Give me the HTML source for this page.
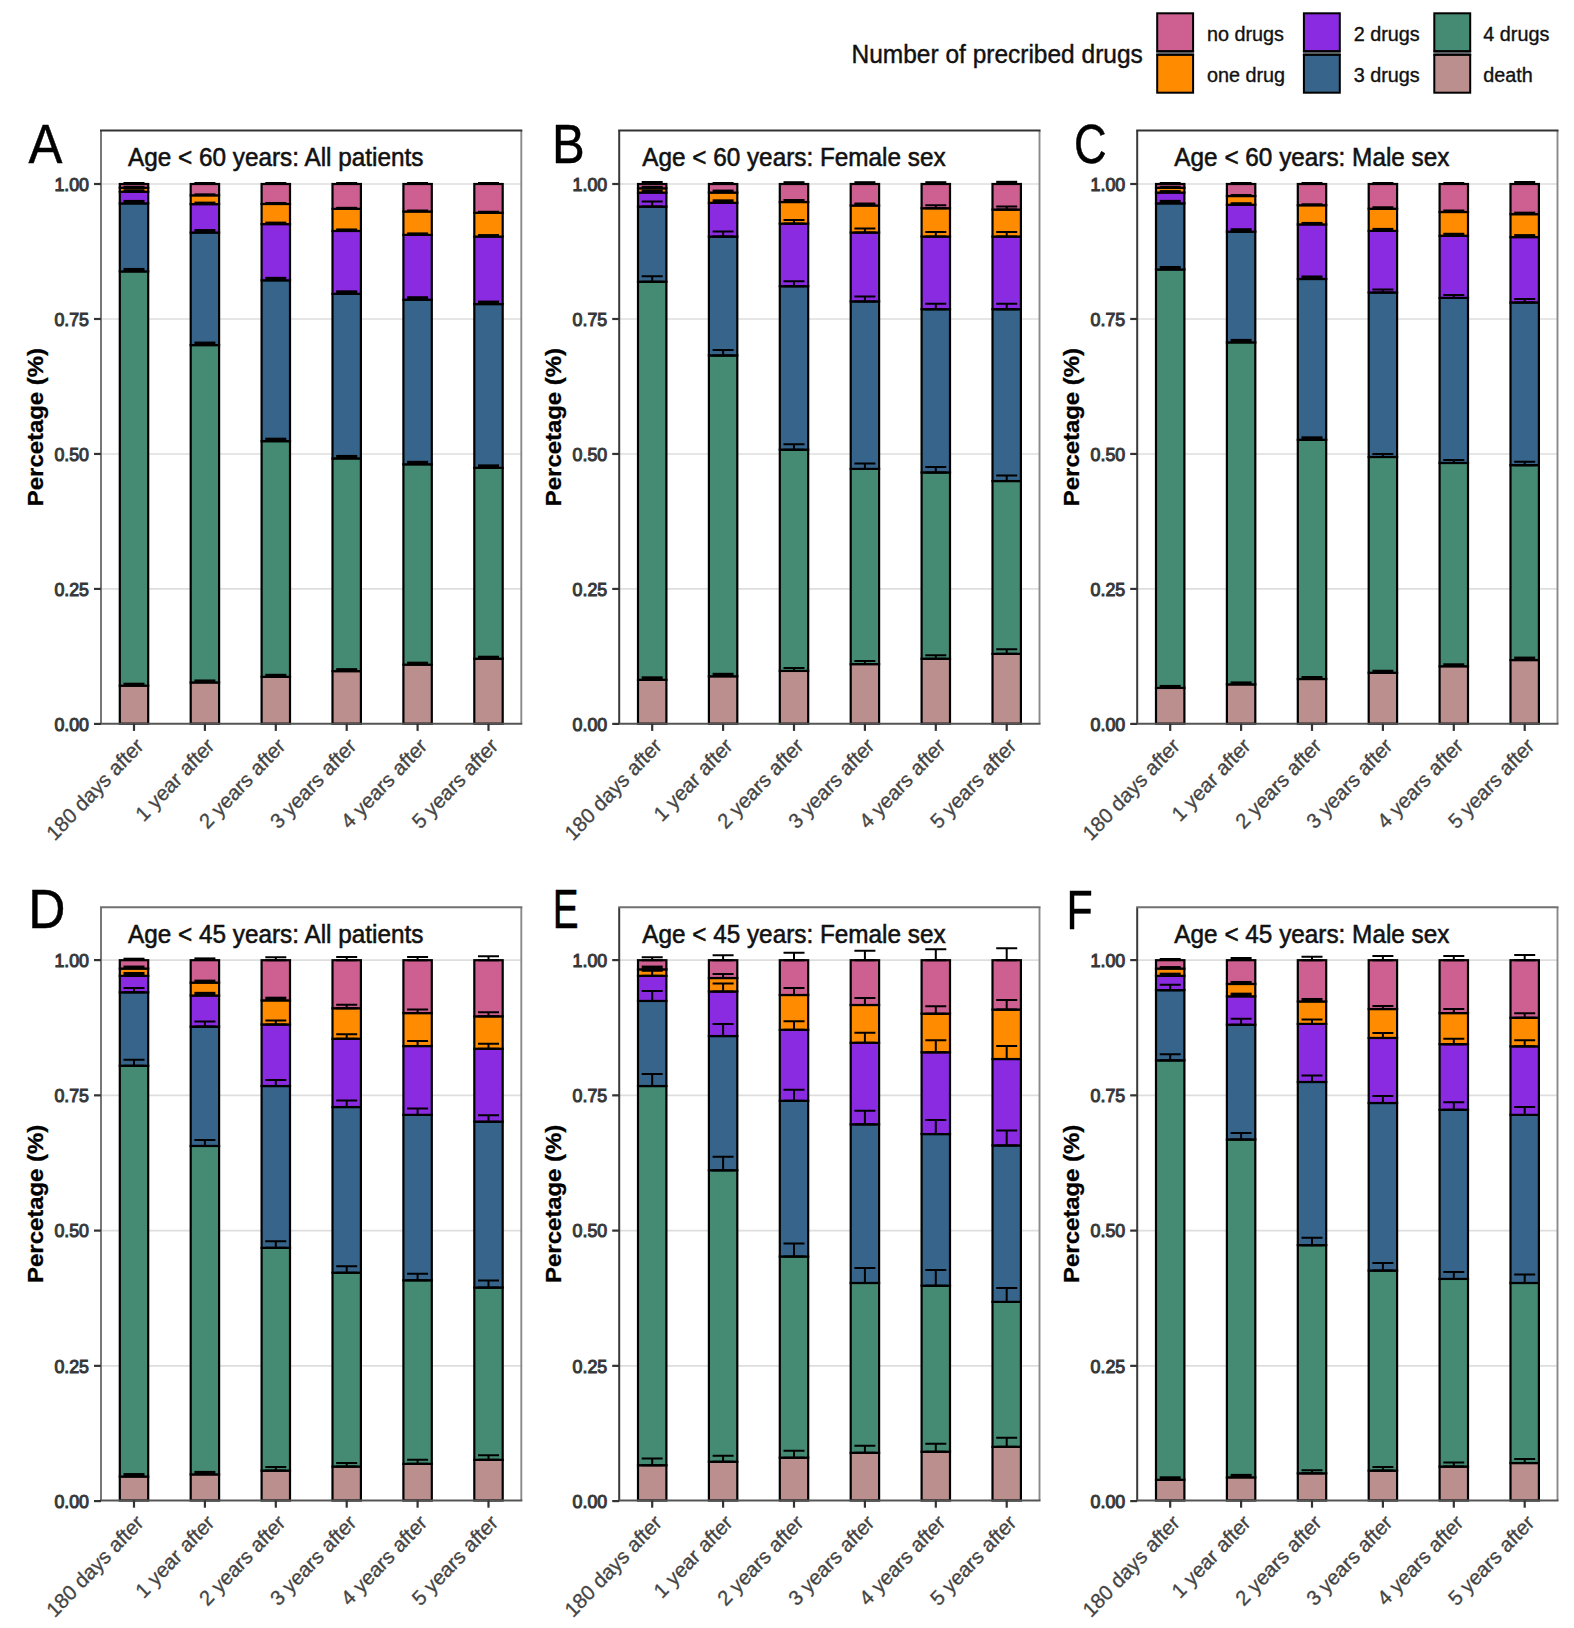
<!DOCTYPE html>
<html lang="en">
<head>
<meta charset="utf-8">
<title>Number of prescribed drugs over time</title>
<style>
html,body{margin:0;padding:0;background:#fff;}
body{width:1574px;height:1628px;overflow:hidden;}
svg{display:block;font-family:"Liberation Sans",sans-serif;}
.grid{stroke:#dedede;stroke-width:1.6;}
.bar{stroke:#000;stroke-width:2.2;}
.eb{stroke:#000;stroke-width:2;fill:none;}
.border{fill:none;stroke:#333;stroke-width:1.5;}
.tick{stroke:#333;stroke-width:2.2;}
.tl{font-size:17.8px;fill:#383838;stroke:#383838;stroke-width:1px;}
.xl{font-size:20.1px;fill:#444;stroke:#444;stroke-width:.3px;}
.yt{font-size:22.5px;font-weight:bold;fill:#000;stroke:#000;stroke-width:.3px;}
.pt{font-size:25px;fill:#111;stroke:#111;stroke-width:.55px;}
.let{font-size:56px;fill:#000;stroke:#000;stroke-width:.5px;}
.lt{font-size:24.5px;fill:#111;stroke:#111;stroke-width:.4px;}
.ll{font-size:19.8px;fill:#111;stroke:#111;stroke-width:.35px;}
.key{stroke:#000;stroke-width:2;}
</style>
</head>
<body>
<svg width="1574" height="1628" viewBox="0 0 1574 1628">
<rect x="0" y="0" width="1574" height="1628" fill="#ffffff"/>
<g class="panel">
<line class="grid" x1="101" x2="521.3" y1="588.92" y2="588.92"/>
<line class="grid" x1="101" x2="521.3" y1="453.95" y2="453.95"/>
<line class="grid" x1="101" x2="521.3" y1="318.98" y2="318.98"/>
<line class="grid" x1="101" x2="521.3" y1="184" y2="184"/>
<rect class="bar" x="119.8" y="685.71" width="28.4" height="37.99" fill="#BC8F8F"/>
<rect class="bar" x="119.8" y="271.43" width="28.4" height="414.27" fill="#458B74"/>
<rect class="bar" x="119.8" y="203.43" width="28.4" height="68" fill="#36648B"/>
<rect class="bar" x="119.8" y="191.72" width="28.4" height="11.71" fill="#8A2BE2"/>
<rect class="bar" x="119.8" y="187.78" width="28.4" height="3.94" fill="#FF8C00"/>
<rect class="bar" x="119.8" y="184" width="28.4" height="3.78" fill="#CD6090"/>
<rect x="123.5" y="682.71" width="21" height="3" fill="#000"/>
<rect x="123.5" y="267.93" width="21" height="3.5" fill="#000"/>
<rect x="123.5" y="199.93" width="21" height="3.5" fill="#000"/>
<rect x="123.5" y="189.22" width="21" height="2.5" fill="#000"/>
<rect x="123.5" y="185.78" width="21" height="2" fill="#000"/>
<rect x="123.5" y="182" width="21" height="2" fill="#000"/>
<rect class="bar" x="190.7" y="682.47" width="28.4" height="41.23" fill="#BC8F8F"/>
<rect class="bar" x="190.7" y="345.1" width="28.4" height="337.37" fill="#458B74"/>
<rect class="bar" x="190.7" y="232.57" width="28.4" height="112.53" fill="#36648B"/>
<rect class="bar" x="190.7" y="204.13" width="28.4" height="28.44" fill="#8A2BE2"/>
<rect class="bar" x="190.7" y="195.33" width="28.4" height="8.8" fill="#FF8C00"/>
<rect class="bar" x="190.7" y="184" width="28.4" height="11.33" fill="#CD6090"/>
<rect x="194.4" y="679.47" width="21" height="3" fill="#000"/>
<rect x="194.4" y="341.6" width="21" height="3.5" fill="#000"/>
<rect x="194.4" y="229.07" width="21" height="3.5" fill="#000"/>
<rect x="194.4" y="201.63" width="21" height="2.5" fill="#000"/>
<rect x="194.4" y="193.33" width="21" height="2" fill="#000"/>
<rect x="194.4" y="182" width="21" height="2" fill="#000"/>
<rect class="bar" x="261.6" y="676.8" width="28.4" height="46.9" fill="#BC8F8F"/>
<rect class="bar" x="261.6" y="441.17" width="28.4" height="235.63" fill="#458B74"/>
<rect class="bar" x="261.6" y="280.34" width="28.4" height="160.83" fill="#36648B"/>
<rect class="bar" x="261.6" y="224.1" width="28.4" height="56.24" fill="#8A2BE2"/>
<rect class="bar" x="261.6" y="203.97" width="28.4" height="20.13" fill="#FF8C00"/>
<rect class="bar" x="261.6" y="184" width="28.4" height="19.97" fill="#CD6090"/>
<rect x="265.3" y="673.8" width="21" height="3" fill="#000"/>
<rect x="265.3" y="437.67" width="21" height="3.5" fill="#000"/>
<rect x="265.3" y="276.84" width="21" height="3.5" fill="#000"/>
<rect x="265.3" y="221.6" width="21" height="2.5" fill="#000"/>
<rect x="265.3" y="201.97" width="21" height="2" fill="#000"/>
<rect x="265.3" y="182" width="21" height="2" fill="#000"/>
<rect class="bar" x="332.5" y="671.13" width="28.4" height="52.57" fill="#BC8F8F"/>
<rect class="bar" x="332.5" y="458.44" width="28.4" height="212.7" fill="#458B74"/>
<rect class="bar" x="332.5" y="293.83" width="28.4" height="164.61" fill="#36648B"/>
<rect class="bar" x="332.5" y="230.95" width="28.4" height="62.88" fill="#8A2BE2"/>
<rect class="bar" x="332.5" y="208.83" width="28.4" height="22.13" fill="#FF8C00"/>
<rect class="bar" x="332.5" y="184" width="28.4" height="24.83" fill="#CD6090"/>
<rect x="336.2" y="668.13" width="21" height="3" fill="#000"/>
<rect x="336.2" y="454.94" width="21" height="3.5" fill="#000"/>
<rect x="336.2" y="290.33" width="21" height="3.5" fill="#000"/>
<rect x="336.2" y="228.45" width="21" height="2.5" fill="#000"/>
<rect x="336.2" y="206.83" width="21" height="2" fill="#000"/>
<rect x="336.2" y="182" width="21" height="2" fill="#000"/>
<rect class="bar" x="403.4" y="664.66" width="28.4" height="59.04" fill="#BC8F8F"/>
<rect class="bar" x="403.4" y="464.32" width="28.4" height="200.34" fill="#458B74"/>
<rect class="bar" x="403.4" y="299.71" width="28.4" height="164.61" fill="#36648B"/>
<rect class="bar" x="403.4" y="234.89" width="28.4" height="64.82" fill="#8A2BE2"/>
<rect class="bar" x="403.4" y="211.52" width="28.4" height="23.37" fill="#FF8C00"/>
<rect class="bar" x="403.4" y="184" width="28.4" height="27.52" fill="#CD6090"/>
<rect x="407.1" y="661.66" width="21" height="3" fill="#000"/>
<rect x="407.1" y="460.82" width="21" height="3.5" fill="#000"/>
<rect x="407.1" y="296.21" width="21" height="3.5" fill="#000"/>
<rect x="407.1" y="232.39" width="21" height="2.5" fill="#000"/>
<rect x="407.1" y="209.52" width="21" height="2" fill="#000"/>
<rect x="407.1" y="182" width="21" height="2" fill="#000"/>
<rect class="bar" x="474.3" y="658.72" width="28.4" height="64.98" fill="#BC8F8F"/>
<rect class="bar" x="474.3" y="467.88" width="28.4" height="190.84" fill="#458B74"/>
<rect class="bar" x="474.3" y="304.08" width="28.4" height="163.8" fill="#36648B"/>
<rect class="bar" x="474.3" y="236.57" width="28.4" height="67.52" fill="#8A2BE2"/>
<rect class="bar" x="474.3" y="212.77" width="28.4" height="23.8" fill="#FF8C00"/>
<rect class="bar" x="474.3" y="184" width="28.4" height="28.77" fill="#CD6090"/>
<rect x="478" y="655.72" width="21" height="3" fill="#000"/>
<rect x="478" y="464.38" width="21" height="3.5" fill="#000"/>
<rect x="478" y="300.58" width="21" height="3.5" fill="#000"/>
<rect x="478" y="234.07" width="21" height="2.5" fill="#000"/>
<rect x="478" y="210.77" width="21" height="2" fill="#000"/>
<rect x="478" y="182" width="21" height="2" fill="#000"/>
<path d="M101 130.5V723.7" fill="none" stroke="#777" stroke-width="2"/>
<path d="M521.3 130.5V723.7" fill="none" stroke="#8a8a8a" stroke-width="1.9"/>
<path d="M100 130.5H522.3" fill="none" stroke="#333" stroke-width="2.2"/>
<path d="M100 723.7H522.3" fill="none" stroke="#555" stroke-width="1.9"/>
<line class="tick" x1="94" x2="101" y1="723.9" y2="723.9"/>
<text class="tl" text-anchor="end" transform="translate(89,730.6) scale(1,1.04)">0.00</text>
<line class="tick" x1="94" x2="101" y1="588.92" y2="588.92"/>
<text class="tl" text-anchor="end" transform="translate(89,595.62) scale(1,1.04)">0.25</text>
<line class="tick" x1="94" x2="101" y1="453.95" y2="453.95"/>
<text class="tl" text-anchor="end" transform="translate(89,460.65) scale(1,1.04)">0.50</text>
<line class="tick" x1="94" x2="101" y1="318.98" y2="318.98"/>
<text class="tl" text-anchor="end" transform="translate(89,325.68) scale(1,1.04)">0.75</text>
<line class="tick" x1="94" x2="101" y1="184" y2="184"/>
<text class="tl" text-anchor="end" transform="translate(89,190.7) scale(1,1.04)">1.00</text>
<line class="tick" x1="134" x2="134" y1="723.7" y2="730.9"/>
<text class="xl" text-anchor="end" transform="translate(144.7,747.2) scale(1,1.05) rotate(-45)">180 days after</text>
<line class="tick" x1="204.9" x2="204.9" y1="723.7" y2="730.9"/>
<text class="xl" text-anchor="end" transform="translate(215.6,747.2) scale(1,1.05) rotate(-45)">1 year after</text>
<line class="tick" x1="275.8" x2="275.8" y1="723.7" y2="730.9"/>
<text class="xl" text-anchor="end" transform="translate(286.5,747.2) scale(1,1.05) rotate(-45)">2 years after</text>
<line class="tick" x1="346.7" x2="346.7" y1="723.7" y2="730.9"/>
<text class="xl" text-anchor="end" transform="translate(357.4,747.2) scale(1,1.05) rotate(-45)">3 years after</text>
<line class="tick" x1="417.6" x2="417.6" y1="723.7" y2="730.9"/>
<text class="xl" text-anchor="end" transform="translate(428.3,747.2) scale(1,1.05) rotate(-45)">4 years after</text>
<line class="tick" x1="488.5" x2="488.5" y1="723.7" y2="730.9"/>
<text class="xl" text-anchor="end" transform="translate(499.2,747.2) scale(1,1.05) rotate(-45)">5 years after</text>
<text class="yt" text-anchor="middle" transform="translate(42.9,427.1) rotate(-90) scale(1.063,1)">Percetage (%)</text>
<text class="pt" text-anchor="middle" transform="translate(275.7,165.8) scale(.973,1)">Age &lt; 60 years: All patients</text>
<text class="let" transform="translate(28.50,163.4) scale(0.9077,1)">A</text>
</g>
<g class="panel">
<line class="grid" x1="619.2" x2="1039.5" y1="588.92" y2="588.92"/>
<line class="grid" x1="619.2" x2="1039.5" y1="453.95" y2="453.95"/>
<line class="grid" x1="619.2" x2="1039.5" y1="318.98" y2="318.98"/>
<line class="grid" x1="619.2" x2="1039.5" y1="184" y2="184"/>
<rect class="bar" x="638" y="679.82" width="28.4" height="43.88" fill="#BC8F8F"/>
<rect class="bar" x="638" y="281.69" width="28.4" height="398.14" fill="#458B74"/>
<rect class="bar" x="638" y="206.61" width="28.4" height="75.07" fill="#36648B"/>
<rect class="bar" x="638" y="192.58" width="28.4" height="14.03" fill="#8A2BE2"/>
<rect class="bar" x="638" y="188.32" width="28.4" height="4.26" fill="#FF8C00"/>
<rect class="bar" x="638" y="184" width="28.4" height="4.32" fill="#CD6090"/>
<rect x="641.7" y="676.32" width="21" height="3.5" fill="#000"/>
<path class="eb" d="M641.7 276.19H662.7M652.2 276.19V281.69M641.7 281.69H662.7"/>
<path class="eb" d="M641.7 201.61H662.7M652.2 201.61V206.61M641.7 206.61H662.7"/>
<rect x="641.7" y="189.58" width="21" height="3" fill="#000"/>
<rect x="641.7" y="185.82" width="21" height="2.5" fill="#000"/>
<rect x="641.7" y="181" width="21" height="3" fill="#000"/>
<rect class="bar" x="708.9" y="676.31" width="28.4" height="47.39" fill="#BC8F8F"/>
<rect class="bar" x="708.9" y="355.41" width="28.4" height="320.91" fill="#458B74"/>
<rect class="bar" x="708.9" y="236.57" width="28.4" height="118.84" fill="#36648B"/>
<rect class="bar" x="708.9" y="202.84" width="28.4" height="33.73" fill="#8A2BE2"/>
<rect class="bar" x="708.9" y="192.58" width="28.4" height="10.25" fill="#FF8C00"/>
<rect class="bar" x="708.9" y="184" width="28.4" height="8.58" fill="#CD6090"/>
<rect x="712.6" y="672.81" width="21" height="3.5" fill="#000"/>
<path class="eb" d="M712.6 349.91H733.6M723.1 349.91V355.41M712.6 355.41H733.6"/>
<path class="eb" d="M712.6 231.57H733.6M723.1 231.57V236.57M712.6 236.57H733.6"/>
<rect x="712.6" y="199.34" width="21" height="3.5" fill="#000"/>
<rect x="712.6" y="189.58" width="21" height="3" fill="#000"/>
<rect x="712.6" y="182" width="21" height="2" fill="#000"/>
<rect class="bar" x="779.8" y="670.92" width="28.4" height="52.78" fill="#BC8F8F"/>
<rect class="bar" x="779.8" y="449.64" width="28.4" height="221.28" fill="#458B74"/>
<rect class="bar" x="779.8" y="286.22" width="28.4" height="163.42" fill="#36648B"/>
<rect class="bar" x="779.8" y="223.61" width="28.4" height="62.61" fill="#8A2BE2"/>
<rect class="bar" x="779.8" y="202.03" width="28.4" height="21.59" fill="#FF8C00"/>
<rect class="bar" x="779.8" y="184" width="28.4" height="18.03" fill="#CD6090"/>
<path class="eb" d="M783.5 667.92H804.5M794 667.92V670.92M783.5 670.92H804.5"/>
<path class="eb" d="M783.5 444.14H804.5M794 444.14V449.64M783.5 449.64H804.5"/>
<path class="eb" d="M783.5 281.22H804.5M794 281.22V286.22M783.5 286.22H804.5"/>
<path class="eb" d="M783.5 220.11H804.5M794 220.11V223.61M783.5 223.61H804.5"/>
<rect x="783.5" y="199.03" width="21" height="3" fill="#000"/>
<rect x="783.5" y="181.2" width="21" height="2.8" fill="#000"/>
<rect class="bar" x="850.7" y="664.12" width="28.4" height="59.58" fill="#BC8F8F"/>
<rect class="bar" x="850.7" y="468.91" width="28.4" height="195.21" fill="#458B74"/>
<rect class="bar" x="850.7" y="301.38" width="28.4" height="167.52" fill="#36648B"/>
<rect class="bar" x="850.7" y="232.52" width="28.4" height="68.87" fill="#8A2BE2"/>
<rect class="bar" x="850.7" y="205.53" width="28.4" height="26.98" fill="#FF8C00"/>
<rect class="bar" x="850.7" y="184" width="28.4" height="21.53" fill="#CD6090"/>
<path class="eb" d="M854.4 661.12H875.4M864.9 661.12V664.12M854.4 664.12H875.4"/>
<path class="eb" d="M854.4 463.41H875.4M864.9 463.41V468.91M854.4 468.91H875.4"/>
<path class="eb" d="M854.4 296.38H875.4M864.9 296.38V301.38M854.4 301.38H875.4"/>
<path class="eb" d="M854.4 228.52H875.4M864.9 228.52V232.52M854.4 232.52H875.4"/>
<rect x="854.4" y="202.53" width="21" height="3" fill="#000"/>
<rect x="854.4" y="181.2" width="21" height="2.8" fill="#000"/>
<rect class="bar" x="921.6" y="658.72" width="28.4" height="64.98" fill="#BC8F8F"/>
<rect class="bar" x="921.6" y="472.42" width="28.4" height="186.3" fill="#458B74"/>
<rect class="bar" x="921.6" y="309.21" width="28.4" height="163.21" fill="#36648B"/>
<rect class="bar" x="921.6" y="236.57" width="28.4" height="72.64" fill="#8A2BE2"/>
<rect class="bar" x="921.6" y="208.23" width="28.4" height="28.33" fill="#FF8C00"/>
<rect class="bar" x="921.6" y="184" width="28.4" height="24.23" fill="#CD6090"/>
<path class="eb" d="M925.3 655.22H946.3M935.8 655.22V658.72M925.3 658.72H946.3"/>
<path class="eb" d="M925.3 466.92H946.3M935.8 466.92V472.42M925.3 472.42H946.3"/>
<path class="eb" d="M925.3 303.71H946.3M935.8 303.71V309.21M925.3 309.21H946.3"/>
<path class="eb" d="M925.3 232.07H946.3M935.8 232.07V236.57M925.3 236.57H946.3"/>
<path class="eb" d="M925.3 205.23H946.3M935.8 205.23V208.23M925.3 208.23H946.3"/>
<rect x="925.3" y="181.2" width="21" height="2.8" fill="#000"/>
<rect class="bar" x="992.5" y="653.86" width="28.4" height="69.84" fill="#BC8F8F"/>
<rect class="bar" x="992.5" y="481.05" width="28.4" height="172.81" fill="#458B74"/>
<rect class="bar" x="992.5" y="309.21" width="28.4" height="171.84" fill="#36648B"/>
<rect class="bar" x="992.5" y="236.57" width="28.4" height="72.64" fill="#8A2BE2"/>
<rect class="bar" x="992.5" y="209.58" width="28.4" height="26.99" fill="#FF8C00"/>
<rect class="bar" x="992.5" y="184" width="28.4" height="25.58" fill="#CD6090"/>
<path class="eb" d="M996.2 649.36H1017.2M1006.7 649.36V653.86M996.2 653.86H1017.2"/>
<path class="eb" d="M996.2 475.55H1017.2M1006.7 475.55V481.05M996.2 481.05H1017.2"/>
<path class="eb" d="M996.2 303.71H1017.2M1006.7 303.71V309.21M996.2 309.21H1017.2"/>
<path class="eb" d="M996.2 232.07H1017.2M1006.7 232.07V236.57M996.2 236.57H1017.2"/>
<path class="eb" d="M996.2 206.58H1017.2M1006.7 206.58V209.58M996.2 209.58H1017.2"/>
<rect x="996.2" y="180.8" width="21" height="3.2" fill="#000"/>
<path d="M619.2 130.5V723.7" fill="none" stroke="#3a3a3a" stroke-width="2"/>
<path d="M1039.5 130.5V723.7" fill="none" stroke="#8a8a8a" stroke-width="1.9"/>
<path d="M618.2 130.5H1040.5" fill="none" stroke="#333" stroke-width="2.2"/>
<path d="M618.2 723.7H1040.5" fill="none" stroke="#555" stroke-width="1.9"/>
<line class="tick" x1="612.2" x2="619.2" y1="723.9" y2="723.9"/>
<text class="tl" text-anchor="end" transform="translate(607.2,730.6) scale(1,1.04)">0.00</text>
<line class="tick" x1="612.2" x2="619.2" y1="588.92" y2="588.92"/>
<text class="tl" text-anchor="end" transform="translate(607.2,595.62) scale(1,1.04)">0.25</text>
<line class="tick" x1="612.2" x2="619.2" y1="453.95" y2="453.95"/>
<text class="tl" text-anchor="end" transform="translate(607.2,460.65) scale(1,1.04)">0.50</text>
<line class="tick" x1="612.2" x2="619.2" y1="318.98" y2="318.98"/>
<text class="tl" text-anchor="end" transform="translate(607.2,325.68) scale(1,1.04)">0.75</text>
<line class="tick" x1="612.2" x2="619.2" y1="184" y2="184"/>
<text class="tl" text-anchor="end" transform="translate(607.2,190.7) scale(1,1.04)">1.00</text>
<line class="tick" x1="652.2" x2="652.2" y1="723.7" y2="730.9"/>
<text class="xl" text-anchor="end" transform="translate(662.9,747.2) scale(1,1.05) rotate(-45)">180 days after</text>
<line class="tick" x1="723.1" x2="723.1" y1="723.7" y2="730.9"/>
<text class="xl" text-anchor="end" transform="translate(733.8,747.2) scale(1,1.05) rotate(-45)">1 year after</text>
<line class="tick" x1="794" x2="794" y1="723.7" y2="730.9"/>
<text class="xl" text-anchor="end" transform="translate(804.7,747.2) scale(1,1.05) rotate(-45)">2 years after</text>
<line class="tick" x1="864.9" x2="864.9" y1="723.7" y2="730.9"/>
<text class="xl" text-anchor="end" transform="translate(875.6,747.2) scale(1,1.05) rotate(-45)">3 years after</text>
<line class="tick" x1="935.8" x2="935.8" y1="723.7" y2="730.9"/>
<text class="xl" text-anchor="end" transform="translate(946.5,747.2) scale(1,1.05) rotate(-45)">4 years after</text>
<line class="tick" x1="1006.7" x2="1006.7" y1="723.7" y2="730.9"/>
<text class="xl" text-anchor="end" transform="translate(1017.4,747.2) scale(1,1.05) rotate(-45)">5 years after</text>
<text class="yt" text-anchor="middle" transform="translate(561.1,427.1) rotate(-90) scale(1.063,1)">Percetage (%)</text>
<text class="pt" text-anchor="middle" transform="translate(793.9,165.8) scale(.973,1)">Age &lt; 60 years: Female sex</text>
<text class="let" transform="translate(551.88,162.9) scale(0.8756,1)">B</text>
</g>
<g class="panel">
<line class="grid" x1="1137.2" x2="1557.5" y1="588.92" y2="588.92"/>
<line class="grid" x1="1137.2" x2="1557.5" y1="453.95" y2="453.95"/>
<line class="grid" x1="1137.2" x2="1557.5" y1="318.98" y2="318.98"/>
<line class="grid" x1="1137.2" x2="1557.5" y1="184" y2="184"/>
<rect class="bar" x="1156" y="687.92" width="28.4" height="35.78" fill="#BC8F8F"/>
<rect class="bar" x="1156" y="269.49" width="28.4" height="418.43" fill="#458B74"/>
<rect class="bar" x="1156" y="203.38" width="28.4" height="66.11" fill="#36648B"/>
<rect class="bar" x="1156" y="192.58" width="28.4" height="10.79" fill="#8A2BE2"/>
<rect class="bar" x="1156" y="187.78" width="28.4" height="4.8" fill="#FF8C00"/>
<rect class="bar" x="1156" y="184" width="28.4" height="3.78" fill="#CD6090"/>
<rect x="1159.7" y="684.92" width="21" height="3" fill="#000"/>
<rect x="1159.7" y="265.99" width="21" height="3.5" fill="#000"/>
<rect x="1159.7" y="199.88" width="21" height="3.5" fill="#000"/>
<rect x="1159.7" y="190.08" width="21" height="2.5" fill="#000"/>
<rect x="1159.7" y="185.78" width="21" height="2" fill="#000"/>
<rect x="1159.7" y="182" width="21" height="2" fill="#000"/>
<rect class="bar" x="1226.9" y="684.41" width="28.4" height="39.29" fill="#BC8F8F"/>
<rect class="bar" x="1226.9" y="342.4" width="28.4" height="342.01" fill="#458B74"/>
<rect class="bar" x="1226.9" y="231.71" width="28.4" height="110.69" fill="#36648B"/>
<rect class="bar" x="1226.9" y="204.72" width="28.4" height="26.99" fill="#8A2BE2"/>
<rect class="bar" x="1226.9" y="196.04" width="28.4" height="8.69" fill="#FF8C00"/>
<rect class="bar" x="1226.9" y="184" width="28.4" height="12.04" fill="#CD6090"/>
<rect x="1230.6" y="681.41" width="21" height="3" fill="#000"/>
<rect x="1230.6" y="338.9" width="21" height="3.5" fill="#000"/>
<rect x="1230.6" y="228.21" width="21" height="3.5" fill="#000"/>
<rect x="1230.6" y="202.22" width="21" height="2.5" fill="#000"/>
<rect x="1230.6" y="194.04" width="21" height="2" fill="#000"/>
<rect x="1230.6" y="182" width="21" height="2" fill="#000"/>
<rect class="bar" x="1297.8" y="679.01" width="28.4" height="44.69" fill="#BC8F8F"/>
<rect class="bar" x="1297.8" y="439.82" width="28.4" height="239.2" fill="#458B74"/>
<rect class="bar" x="1297.8" y="278.99" width="28.4" height="160.83" fill="#36648B"/>
<rect class="bar" x="1297.8" y="224.42" width="28.4" height="54.56" fill="#8A2BE2"/>
<rect class="bar" x="1297.8" y="205.26" width="28.4" height="19.16" fill="#FF8C00"/>
<rect class="bar" x="1297.8" y="184" width="28.4" height="21.26" fill="#CD6090"/>
<rect x="1301.5" y="676.01" width="21" height="3" fill="#000"/>
<rect x="1301.5" y="436.32" width="21" height="3.5" fill="#000"/>
<rect x="1301.5" y="275.49" width="21" height="3.5" fill="#000"/>
<rect x="1301.5" y="221.92" width="21" height="2.5" fill="#000"/>
<rect x="1301.5" y="203.26" width="21" height="2" fill="#000"/>
<rect x="1301.5" y="182" width="21" height="2" fill="#000"/>
<rect class="bar" x="1368.7" y="672.75" width="28.4" height="50.95" fill="#BC8F8F"/>
<rect class="bar" x="1368.7" y="456.98" width="28.4" height="215.77" fill="#458B74"/>
<rect class="bar" x="1368.7" y="292.48" width="28.4" height="164.5" fill="#36648B"/>
<rect class="bar" x="1368.7" y="230.9" width="28.4" height="61.58" fill="#8A2BE2"/>
<rect class="bar" x="1368.7" y="208.77" width="28.4" height="22.13" fill="#FF8C00"/>
<rect class="bar" x="1368.7" y="184" width="28.4" height="24.77" fill="#CD6090"/>
<rect x="1372.4" y="669.75" width="21" height="3" fill="#000"/>
<path class="eb" d="M1372.4 453.98H1393.4M1382.9 453.98V456.98M1372.4 456.98H1393.4"/>
<path class="eb" d="M1372.4 289.48H1393.4M1382.9 289.48V292.48M1372.4 292.48H1393.4"/>
<rect x="1372.4" y="227.9" width="21" height="3" fill="#000"/>
<rect x="1372.4" y="206.27" width="21" height="2.5" fill="#000"/>
<rect x="1372.4" y="182" width="21" height="2" fill="#000"/>
<rect class="bar" x="1439.6" y="666.28" width="28.4" height="57.42" fill="#BC8F8F"/>
<rect class="bar" x="1439.6" y="462.97" width="28.4" height="203.3" fill="#458B74"/>
<rect class="bar" x="1439.6" y="297.88" width="28.4" height="165.09" fill="#36648B"/>
<rect class="bar" x="1439.6" y="235.76" width="28.4" height="62.12" fill="#8A2BE2"/>
<rect class="bar" x="1439.6" y="212.01" width="28.4" height="23.75" fill="#FF8C00"/>
<rect class="bar" x="1439.6" y="184" width="28.4" height="28.01" fill="#CD6090"/>
<rect x="1443.3" y="663.28" width="21" height="3" fill="#000"/>
<path class="eb" d="M1443.3 459.97H1464.3M1453.8 459.97V462.97M1443.3 462.97H1464.3"/>
<path class="eb" d="M1443.3 294.88H1464.3M1453.8 294.88V297.88M1443.3 297.88H1464.3"/>
<rect x="1443.3" y="232.76" width="21" height="3" fill="#000"/>
<rect x="1443.3" y="209.51" width="21" height="2.5" fill="#000"/>
<rect x="1443.3" y="182" width="21" height="2" fill="#000"/>
<rect class="bar" x="1510.5" y="660.07" width="28.4" height="63.63" fill="#BC8F8F"/>
<rect class="bar" x="1510.5" y="465.13" width="28.4" height="194.94" fill="#458B74"/>
<rect class="bar" x="1510.5" y="302.46" width="28.4" height="162.67" fill="#36648B"/>
<rect class="bar" x="1510.5" y="237.11" width="28.4" height="65.36" fill="#8A2BE2"/>
<rect class="bar" x="1510.5" y="214.17" width="28.4" height="22.94" fill="#FF8C00"/>
<rect class="bar" x="1510.5" y="184" width="28.4" height="30.17" fill="#CD6090"/>
<rect x="1514.2" y="656.57" width="21" height="3.5" fill="#000"/>
<path class="eb" d="M1514.2 461.63H1535.2M1524.7 461.63V465.13M1514.2 465.13H1535.2"/>
<path class="eb" d="M1514.2 298.96H1535.2M1524.7 298.96V302.46M1514.2 302.46H1535.2"/>
<rect x="1514.2" y="234.11" width="21" height="3" fill="#000"/>
<rect x="1514.2" y="211.67" width="21" height="2.5" fill="#000"/>
<rect x="1514.2" y="181" width="21" height="3" fill="#000"/>
<path d="M1137.2 130.5V723.7" fill="none" stroke="#3a3a3a" stroke-width="2"/>
<path d="M1557.5 130.5V723.7" fill="none" stroke="#8a8a8a" stroke-width="1.9"/>
<path d="M1136.2 130.5H1558.5" fill="none" stroke="#333" stroke-width="2.2"/>
<path d="M1136.2 723.7H1558.5" fill="none" stroke="#555" stroke-width="1.9"/>
<line class="tick" x1="1130.2" x2="1137.2" y1="723.9" y2="723.9"/>
<text class="tl" text-anchor="end" transform="translate(1125.2,730.6) scale(1,1.04)">0.00</text>
<line class="tick" x1="1130.2" x2="1137.2" y1="588.92" y2="588.92"/>
<text class="tl" text-anchor="end" transform="translate(1125.2,595.62) scale(1,1.04)">0.25</text>
<line class="tick" x1="1130.2" x2="1137.2" y1="453.95" y2="453.95"/>
<text class="tl" text-anchor="end" transform="translate(1125.2,460.65) scale(1,1.04)">0.50</text>
<line class="tick" x1="1130.2" x2="1137.2" y1="318.98" y2="318.98"/>
<text class="tl" text-anchor="end" transform="translate(1125.2,325.68) scale(1,1.04)">0.75</text>
<line class="tick" x1="1130.2" x2="1137.2" y1="184" y2="184"/>
<text class="tl" text-anchor="end" transform="translate(1125.2,190.7) scale(1,1.04)">1.00</text>
<line class="tick" x1="1170.2" x2="1170.2" y1="723.7" y2="730.9"/>
<text class="xl" text-anchor="end" transform="translate(1180.9,747.2) scale(1,1.05) rotate(-45)">180 days after</text>
<line class="tick" x1="1241.1" x2="1241.1" y1="723.7" y2="730.9"/>
<text class="xl" text-anchor="end" transform="translate(1251.8,747.2) scale(1,1.05) rotate(-45)">1 year after</text>
<line class="tick" x1="1312" x2="1312" y1="723.7" y2="730.9"/>
<text class="xl" text-anchor="end" transform="translate(1322.7,747.2) scale(1,1.05) rotate(-45)">2 years after</text>
<line class="tick" x1="1382.9" x2="1382.9" y1="723.7" y2="730.9"/>
<text class="xl" text-anchor="end" transform="translate(1393.6,747.2) scale(1,1.05) rotate(-45)">3 years after</text>
<line class="tick" x1="1453.8" x2="1453.8" y1="723.7" y2="730.9"/>
<text class="xl" text-anchor="end" transform="translate(1464.5,747.2) scale(1,1.05) rotate(-45)">4 years after</text>
<line class="tick" x1="1524.7" x2="1524.7" y1="723.7" y2="730.9"/>
<text class="xl" text-anchor="end" transform="translate(1535.4,747.2) scale(1,1.05) rotate(-45)">5 years after</text>
<text class="yt" text-anchor="middle" transform="translate(1079.1,427.1) rotate(-90) scale(1.063,1)">Percetage (%)</text>
<text class="pt" text-anchor="middle" transform="translate(1311.9,165.8) scale(.973,1)">Age &lt; 60 years: Male sex</text>
<text class="let" transform="translate(1073.91,163) scale(0.8064,1)">C</text>
</g>
<g class="panel">
<line class="grid" x1="101" x2="521.3" y1="1365.85" y2="1365.85"/>
<line class="grid" x1="101" x2="521.3" y1="1230.6" y2="1230.6"/>
<line class="grid" x1="101" x2="521.3" y1="1095.35" y2="1095.35"/>
<line class="grid" x1="101" x2="521.3" y1="960.1" y2="960.1"/>
<rect class="bar" x="119.8" y="1476.56" width="28.4" height="23.94" fill="#BC8F8F"/>
<rect class="bar" x="119.8" y="1065.77" width="28.4" height="410.79" fill="#458B74"/>
<rect class="bar" x="119.8" y="992.29" width="28.4" height="73.48" fill="#36648B"/>
<rect class="bar" x="119.8" y="975.87" width="28.4" height="16.43" fill="#8A2BE2"/>
<rect class="bar" x="119.8" y="968.57" width="28.4" height="7.29" fill="#FF8C00"/>
<rect class="bar" x="119.8" y="960.2" width="28.4" height="8.37" fill="#CD6090"/>
<rect x="123.5" y="1473.06" width="21" height="3.5" fill="#000"/>
<path class="eb" d="M123.5 1059.77H144.5M134 1059.77V1065.77M123.5 1065.77H144.5"/>
<path class="eb" d="M123.5 987.99H144.5M134 987.99V992.29M123.5 992.29H144.5"/>
<rect x="123.5" y="972.02" width="21" height="3.85" fill="#000"/>
<rect x="123.5" y="965.57" width="21" height="3" fill="#000"/>
<rect x="123.5" y="957.7" width="21" height="2.5" fill="#000"/>
<rect class="bar" x="190.7" y="1474.4" width="28.4" height="26.1" fill="#BC8F8F"/>
<rect class="bar" x="190.7" y="1145.96" width="28.4" height="328.45" fill="#458B74"/>
<rect class="bar" x="190.7" y="1026.6" width="28.4" height="119.35" fill="#36648B"/>
<rect class="bar" x="190.7" y="995.54" width="28.4" height="31.07" fill="#8A2BE2"/>
<rect class="bar" x="190.7" y="982.62" width="28.4" height="12.91" fill="#FF8C00"/>
<rect class="bar" x="190.7" y="960.2" width="28.4" height="22.42" fill="#CD6090"/>
<rect x="194.4" y="1470.9" width="21" height="3.5" fill="#000"/>
<path class="eb" d="M194.4 1139.96H215.4M204.9 1139.96V1145.96M194.4 1145.96H215.4"/>
<path class="eb" d="M194.4 1021.6H215.4M204.9 1021.6V1026.6M194.4 1026.6H215.4"/>
<rect x="194.4" y="991.84" width="21" height="3.7" fill="#000"/>
<rect x="194.4" y="979.62" width="21" height="3" fill="#000"/>
<rect x="194.4" y="957.4" width="21" height="2.8" fill="#000"/>
<rect class="bar" x="261.6" y="1470.62" width="28.4" height="29.88" fill="#BC8F8F"/>
<rect class="bar" x="261.6" y="1247.86" width="28.4" height="222.77" fill="#458B74"/>
<rect class="bar" x="261.6" y="1086.04" width="28.4" height="161.82" fill="#36648B"/>
<rect class="bar" x="261.6" y="1024.44" width="28.4" height="61.59" fill="#8A2BE2"/>
<rect class="bar" x="261.6" y="1000.4" width="28.4" height="24.04" fill="#FF8C00"/>
<rect class="bar" x="261.6" y="960.2" width="28.4" height="40.2" fill="#CD6090"/>
<path class="eb" d="M265.3 1467.12H286.3M275.8 1467.12V1470.62M265.3 1470.62H286.3"/>
<path class="eb" d="M265.3 1241.36H286.3M275.8 1241.36V1247.86M265.3 1247.86H286.3"/>
<path class="eb" d="M265.3 1080.04H286.3M275.8 1080.04V1086.04M265.3 1086.04H286.3"/>
<path class="eb" d="M265.3 1020.44H286.3M275.8 1020.44V1024.44M265.3 1024.44H286.3"/>
<rect x="265.3" y="996.7" width="21" height="3.7" fill="#000"/>
<path class="eb" d="M265.3 957.2H286.3M275.8 957.2V960.2M265.3 960.2H286.3"/>
<rect class="bar" x="332.5" y="1466.57" width="28.4" height="33.93" fill="#BC8F8F"/>
<rect class="bar" x="332.5" y="1272.71" width="28.4" height="193.86" fill="#458B74"/>
<rect class="bar" x="332.5" y="1107.05" width="28.4" height="165.66" fill="#36648B"/>
<rect class="bar" x="332.5" y="1038.76" width="28.4" height="68.29" fill="#8A2BE2"/>
<rect class="bar" x="332.5" y="1008.23" width="28.4" height="30.53" fill="#FF8C00"/>
<rect class="bar" x="332.5" y="960.2" width="28.4" height="48.03" fill="#CD6090"/>
<path class="eb" d="M336.2 1463.07H357.2M346.7 1463.07V1466.57M336.2 1466.57H357.2"/>
<path class="eb" d="M336.2 1266.21H357.2M346.7 1266.21V1272.71M336.2 1272.71H357.2"/>
<path class="eb" d="M336.2 1100.55H357.2M346.7 1100.55V1107.05M336.2 1107.05H357.2"/>
<path class="eb" d="M336.2 1034.26H357.2M346.7 1034.26V1038.76M336.2 1038.76H357.2"/>
<path class="eb" d="M336.2 1004.73H357.2M346.7 1004.73V1008.23M336.2 1008.23H357.2"/>
<path class="eb" d="M336.2 957H357.2M346.7 957V960.2M336.2 960.2H357.2"/>
<rect class="bar" x="403.4" y="1463.87" width="28.4" height="36.63" fill="#BC8F8F"/>
<rect class="bar" x="403.4" y="1280.27" width="28.4" height="183.59" fill="#458B74"/>
<rect class="bar" x="403.4" y="1114.89" width="28.4" height="165.39" fill="#36648B"/>
<rect class="bar" x="403.4" y="1046.05" width="28.4" height="68.83" fill="#8A2BE2"/>
<rect class="bar" x="403.4" y="1013.1" width="28.4" height="32.96" fill="#FF8C00"/>
<rect class="bar" x="403.4" y="960.2" width="28.4" height="52.9" fill="#CD6090"/>
<path class="eb" d="M407.1 1459.87H428.1M417.6 1459.87V1463.87M407.1 1463.87H428.1"/>
<path class="eb" d="M407.1 1273.77H428.1M417.6 1273.77V1280.27M407.1 1280.27H428.1"/>
<path class="eb" d="M407.1 1108.39H428.1M417.6 1108.39V1114.89M407.1 1114.89H428.1"/>
<path class="eb" d="M407.1 1041.05H428.1M417.6 1041.05V1046.05M407.1 1046.05H428.1"/>
<path class="eb" d="M407.1 1009.6H428.1M417.6 1009.6V1013.1M407.1 1013.1H428.1"/>
<path class="eb" d="M407.1 957H428.1M417.6 957V960.2M407.1 960.2H428.1"/>
<rect class="bar" x="474.3" y="1459.82" width="28.4" height="40.68" fill="#BC8F8F"/>
<rect class="bar" x="474.3" y="1287.57" width="28.4" height="172.25" fill="#458B74"/>
<rect class="bar" x="474.3" y="1121.64" width="28.4" height="165.93" fill="#36648B"/>
<rect class="bar" x="474.3" y="1048.76" width="28.4" height="72.89" fill="#8A2BE2"/>
<rect class="bar" x="474.3" y="1016.34" width="28.4" height="32.42" fill="#FF8C00"/>
<rect class="bar" x="474.3" y="960.2" width="28.4" height="56.14" fill="#CD6090"/>
<path class="eb" d="M478 1455.32H499M488.5 1455.32V1459.82M478 1459.82H499"/>
<path class="eb" d="M478 1280.57H499M488.5 1280.57V1287.57M478 1287.57H499"/>
<path class="eb" d="M478 1115.14H499M488.5 1115.14V1121.64M478 1121.64H499"/>
<path class="eb" d="M478 1043.76H499M488.5 1043.76V1048.76M478 1048.76H499"/>
<path class="eb" d="M478 1012.34H499M488.5 1012.34V1016.34M478 1016.34H499"/>
<path class="eb" d="M478 956.2H499M488.5 956.2V960.2M478 960.2H499"/>
<path d="M101 907.2V1500.5" fill="none" stroke="#777" stroke-width="2"/>
<path d="M521.3 907.2V1500.5" fill="none" stroke="#8a8a8a" stroke-width="1.9"/>
<path d="M100 907.2H522.3" fill="none" stroke="#707070" stroke-width="2.0"/>
<path d="M100 1500.5H522.3" fill="none" stroke="#555" stroke-width="1.9"/>
<line class="tick" x1="94" x2="101" y1="1501.1" y2="1501.1"/>
<text class="tl" text-anchor="end" transform="translate(89,1507.8) scale(1,1.04)">0.00</text>
<line class="tick" x1="94" x2="101" y1="1365.85" y2="1365.85"/>
<text class="tl" text-anchor="end" transform="translate(89,1372.55) scale(1,1.04)">0.25</text>
<line class="tick" x1="94" x2="101" y1="1230.6" y2="1230.6"/>
<text class="tl" text-anchor="end" transform="translate(89,1237.3) scale(1,1.04)">0.50</text>
<line class="tick" x1="94" x2="101" y1="1095.35" y2="1095.35"/>
<text class="tl" text-anchor="end" transform="translate(89,1102.05) scale(1,1.04)">0.75</text>
<line class="tick" x1="94" x2="101" y1="960.1" y2="960.1"/>
<text class="tl" text-anchor="end" transform="translate(89,966.8) scale(1,1.04)">1.00</text>
<line class="tick" x1="134" x2="134" y1="1500.5" y2="1507.7"/>
<text class="xl" text-anchor="end" transform="translate(144.7,1524) scale(1,1.05) rotate(-45)">180 days after</text>
<line class="tick" x1="204.9" x2="204.9" y1="1500.5" y2="1507.7"/>
<text class="xl" text-anchor="end" transform="translate(215.6,1524) scale(1,1.05) rotate(-45)">1 year after</text>
<line class="tick" x1="275.8" x2="275.8" y1="1500.5" y2="1507.7"/>
<text class="xl" text-anchor="end" transform="translate(286.5,1524) scale(1,1.05) rotate(-45)">2 years after</text>
<line class="tick" x1="346.7" x2="346.7" y1="1500.5" y2="1507.7"/>
<text class="xl" text-anchor="end" transform="translate(357.4,1524) scale(1,1.05) rotate(-45)">3 years after</text>
<line class="tick" x1="417.6" x2="417.6" y1="1500.5" y2="1507.7"/>
<text class="xl" text-anchor="end" transform="translate(428.3,1524) scale(1,1.05) rotate(-45)">4 years after</text>
<line class="tick" x1="488.5" x2="488.5" y1="1500.5" y2="1507.7"/>
<text class="xl" text-anchor="end" transform="translate(499.2,1524) scale(1,1.05) rotate(-45)">5 years after</text>
<text class="yt" text-anchor="middle" transform="translate(42.9,1203.85) rotate(-90) scale(1.063,1)">Percetage (%)</text>
<text class="pt" text-anchor="middle" transform="translate(275.7,942.5) scale(.973,1)">Age &lt; 45 years: All patients</text>
<text class="let" transform="translate(28.18,928.3) scale(0.9195,1)">D</text>
</g>
<g class="panel">
<line class="grid" x1="619.2" x2="1039.5" y1="1365.85" y2="1365.85"/>
<line class="grid" x1="619.2" x2="1039.5" y1="1230.6" y2="1230.6"/>
<line class="grid" x1="619.2" x2="1039.5" y1="1095.35" y2="1095.35"/>
<line class="grid" x1="619.2" x2="1039.5" y1="960.1" y2="960.1"/>
<rect class="bar" x="638" y="1465.22" width="28.4" height="35.28" fill="#BC8F8F"/>
<rect class="bar" x="638" y="1086.04" width="28.4" height="379.18" fill="#458B74"/>
<rect class="bar" x="638" y="1000.94" width="28.4" height="85.1" fill="#36648B"/>
<rect class="bar" x="638" y="975.87" width="28.4" height="25.07" fill="#8A2BE2"/>
<rect class="bar" x="638" y="969.39" width="28.4" height="6.48" fill="#FF8C00"/>
<rect class="bar" x="638" y="960.2" width="28.4" height="9.19" fill="#CD6090"/>
<path class="eb" d="M641.7 1458.52H662.7M652.2 1458.52V1465.22M641.7 1465.22H662.7"/>
<path class="eb" d="M641.7 1074.04H662.7M652.2 1074.04V1086.04M641.7 1086.04H662.7"/>
<path class="eb" d="M641.7 990.94H662.7M652.2 990.94V1000.94M641.7 1000.94H662.7"/>
<path class="eb" d="M641.7 970.87H662.7M652.2 970.87V975.87M641.7 975.87H662.7"/>
<rect x="641.7" y="965.59" width="21" height="3.8" fill="#000"/>
<path class="eb" d="M641.7 957.2H662.7M652.2 957.2V960.2M641.7 960.2H662.7"/>
<rect class="bar" x="708.9" y="1461.71" width="28.4" height="38.79" fill="#BC8F8F"/>
<rect class="bar" x="708.9" y="1170.27" width="28.4" height="291.44" fill="#458B74"/>
<rect class="bar" x="708.9" y="1036.06" width="28.4" height="134.21" fill="#36648B"/>
<rect class="bar" x="708.9" y="991.48" width="28.4" height="44.57" fill="#8A2BE2"/>
<rect class="bar" x="708.9" y="978.03" width="28.4" height="13.45" fill="#FF8C00"/>
<rect class="bar" x="708.9" y="960.2" width="28.4" height="17.83" fill="#CD6090"/>
<path class="eb" d="M712.6 1455.71H733.6M723.1 1455.71V1461.71M712.6 1461.71H733.6"/>
<path class="eb" d="M712.6 1156.77H733.6M723.1 1156.77V1170.27M712.6 1170.27H733.6"/>
<path class="eb" d="M712.6 1024.06H733.6M723.1 1024.06V1036.06M712.6 1036.06H733.6"/>
<path class="eb" d="M712.6 983.48H733.6M723.1 983.48V991.48M712.6 991.48H733.6"/>
<path class="eb" d="M712.6 974.03H733.6M723.1 974.03V978.03M712.6 978.03H733.6"/>
<path class="eb" d="M712.6 955.2H733.6M723.1 955.2V960.2M712.6 960.2H733.6"/>
<rect class="bar" x="779.8" y="1457.65" width="28.4" height="42.85" fill="#BC8F8F"/>
<rect class="bar" x="779.8" y="1256.5" width="28.4" height="201.15" fill="#458B74"/>
<rect class="bar" x="779.8" y="1100.84" width="28.4" height="155.66" fill="#36648B"/>
<rect class="bar" x="779.8" y="1029.84" width="28.4" height="71" fill="#8A2BE2"/>
<rect class="bar" x="779.8" y="995" width="28.4" height="34.85" fill="#FF8C00"/>
<rect class="bar" x="779.8" y="960.2" width="28.4" height="34.8" fill="#CD6090"/>
<path class="eb" d="M783.5 1450.65H804.5M794 1450.65V1457.65M783.5 1457.65H804.5"/>
<path class="eb" d="M783.5 1243.5H804.5M794 1243.5V1256.5M783.5 1256.5H804.5"/>
<path class="eb" d="M783.5 1089.84H804.5M794 1089.84V1100.84M783.5 1100.84H804.5"/>
<path class="eb" d="M783.5 1021.24H804.5M794 1021.24V1029.84M783.5 1029.84H804.5"/>
<path class="eb" d="M783.5 988H804.5M794 988V995M783.5 995H804.5"/>
<path class="eb" d="M783.5 952.7H804.5M794 952.7V960.2M783.5 960.2H804.5"/>
<rect class="bar" x="850.7" y="1452.79" width="28.4" height="47.71" fill="#BC8F8F"/>
<rect class="bar" x="850.7" y="1282.98" width="28.4" height="169.82" fill="#458B74"/>
<rect class="bar" x="850.7" y="1124.34" width="28.4" height="158.63" fill="#36648B"/>
<rect class="bar" x="850.7" y="1042.81" width="28.4" height="81.53" fill="#8A2BE2"/>
<rect class="bar" x="850.7" y="1004.99" width="28.4" height="37.82" fill="#FF8C00"/>
<rect class="bar" x="850.7" y="960.2" width="28.4" height="44.79" fill="#CD6090"/>
<path class="eb" d="M854.4 1445.79H875.4M864.9 1445.79V1452.79M854.4 1452.79H875.4"/>
<path class="eb" d="M854.4 1267.98H875.4M864.9 1267.98V1282.98M854.4 1282.98H875.4"/>
<path class="eb" d="M854.4 1110.84H875.4M864.9 1110.84V1124.34M854.4 1124.34H875.4"/>
<path class="eb" d="M854.4 1032.81H875.4M864.9 1032.81V1042.81M854.4 1042.81H875.4"/>
<path class="eb" d="M854.4 997.99H875.4M864.9 997.99V1004.99M854.4 1004.99H875.4"/>
<path class="eb" d="M854.4 950.7H875.4M864.9 950.7V960.2M854.4 960.2H875.4"/>
<rect class="bar" x="921.6" y="1451.71" width="28.4" height="48.79" fill="#BC8F8F"/>
<rect class="bar" x="921.6" y="1285.68" width="28.4" height="166.03" fill="#458B74"/>
<rect class="bar" x="921.6" y="1134.07" width="28.4" height="151.61" fill="#36648B"/>
<rect class="bar" x="921.6" y="1052.27" width="28.4" height="81.8" fill="#8A2BE2"/>
<rect class="bar" x="921.6" y="1013.64" width="28.4" height="38.63" fill="#FF8C00"/>
<rect class="bar" x="921.6" y="960.2" width="28.4" height="53.44" fill="#CD6090"/>
<path class="eb" d="M925.3 1443.71H946.3M935.8 1443.71V1451.71M925.3 1451.71H946.3"/>
<path class="eb" d="M925.3 1269.98H946.3M935.8 1269.98V1285.68M925.3 1285.68H946.3"/>
<path class="eb" d="M925.3 1120.07H946.3M935.8 1120.07V1134.07M925.3 1134.07H946.3"/>
<path class="eb" d="M925.3 1040.27H946.3M935.8 1040.27V1052.27M925.3 1052.27H946.3"/>
<path class="eb" d="M925.3 1006.14H946.3M935.8 1006.14V1013.64M925.3 1013.64H946.3"/>
<path class="eb" d="M925.3 949.2H946.3M935.8 949.2V960.2M925.3 960.2H946.3"/>
<rect class="bar" x="992.5" y="1446.85" width="28.4" height="53.65" fill="#BC8F8F"/>
<rect class="bar" x="992.5" y="1301.89" width="28.4" height="144.96" fill="#458B74"/>
<rect class="bar" x="992.5" y="1145.41" width="28.4" height="156.47" fill="#36648B"/>
<rect class="bar" x="992.5" y="1059.02" width="28.4" height="86.39" fill="#8A2BE2"/>
<rect class="bar" x="992.5" y="1009.58" width="28.4" height="49.44" fill="#FF8C00"/>
<rect class="bar" x="992.5" y="960.2" width="28.4" height="49.38" fill="#CD6090"/>
<path class="eb" d="M996.2 1437.85H1017.2M1006.7 1437.85V1446.85M996.2 1446.85H1017.2"/>
<path class="eb" d="M996.2 1287.89H1017.2M1006.7 1287.89V1301.89M996.2 1301.89H1017.2"/>
<path class="eb" d="M996.2 1130.41H1017.2M1006.7 1130.41V1145.41M996.2 1145.41H1017.2"/>
<path class="eb" d="M996.2 1046.02H1017.2M1006.7 1046.02V1059.02M996.2 1059.02H1017.2"/>
<path class="eb" d="M996.2 1000.08H1017.2M1006.7 1000.08V1009.58M996.2 1009.58H1017.2"/>
<path class="eb" d="M996.2 948.2H1017.2M1006.7 948.2V960.2M996.2 960.2H1017.2"/>
<path d="M619.2 907.2V1500.5" fill="none" stroke="#3a3a3a" stroke-width="2"/>
<path d="M1039.5 907.2V1500.5" fill="none" stroke="#8a8a8a" stroke-width="1.9"/>
<path d="M618.2 907.2H1040.5" fill="none" stroke="#707070" stroke-width="2.0"/>
<path d="M618.2 1500.5H1040.5" fill="none" stroke="#555" stroke-width="1.9"/>
<line class="tick" x1="612.2" x2="619.2" y1="1501.1" y2="1501.1"/>
<text class="tl" text-anchor="end" transform="translate(607.2,1507.8) scale(1,1.04)">0.00</text>
<line class="tick" x1="612.2" x2="619.2" y1="1365.85" y2="1365.85"/>
<text class="tl" text-anchor="end" transform="translate(607.2,1372.55) scale(1,1.04)">0.25</text>
<line class="tick" x1="612.2" x2="619.2" y1="1230.6" y2="1230.6"/>
<text class="tl" text-anchor="end" transform="translate(607.2,1237.3) scale(1,1.04)">0.50</text>
<line class="tick" x1="612.2" x2="619.2" y1="1095.35" y2="1095.35"/>
<text class="tl" text-anchor="end" transform="translate(607.2,1102.05) scale(1,1.04)">0.75</text>
<line class="tick" x1="612.2" x2="619.2" y1="960.1" y2="960.1"/>
<text class="tl" text-anchor="end" transform="translate(607.2,966.8) scale(1,1.04)">1.00</text>
<line class="tick" x1="652.2" x2="652.2" y1="1500.5" y2="1507.7"/>
<text class="xl" text-anchor="end" transform="translate(662.9,1524) scale(1,1.05) rotate(-45)">180 days after</text>
<line class="tick" x1="723.1" x2="723.1" y1="1500.5" y2="1507.7"/>
<text class="xl" text-anchor="end" transform="translate(733.8,1524) scale(1,1.05) rotate(-45)">1 year after</text>
<line class="tick" x1="794" x2="794" y1="1500.5" y2="1507.7"/>
<text class="xl" text-anchor="end" transform="translate(804.7,1524) scale(1,1.05) rotate(-45)">2 years after</text>
<line class="tick" x1="864.9" x2="864.9" y1="1500.5" y2="1507.7"/>
<text class="xl" text-anchor="end" transform="translate(875.6,1524) scale(1,1.05) rotate(-45)">3 years after</text>
<line class="tick" x1="935.8" x2="935.8" y1="1500.5" y2="1507.7"/>
<text class="xl" text-anchor="end" transform="translate(946.5,1524) scale(1,1.05) rotate(-45)">4 years after</text>
<line class="tick" x1="1006.7" x2="1006.7" y1="1500.5" y2="1507.7"/>
<text class="xl" text-anchor="end" transform="translate(1017.4,1524) scale(1,1.05) rotate(-45)">5 years after</text>
<text class="yt" text-anchor="middle" transform="translate(561.1,1203.85) rotate(-90) scale(1.063,1)">Percetage (%)</text>
<text class="pt" text-anchor="middle" transform="translate(793.9,942.5) scale(.973,1)">Age &lt; 45 years: Female sex</text>
<text class="let" transform="translate(552.72,928) scale(0.6919,1)">E</text>
</g>
<g class="panel">
<line class="grid" x1="1137.2" x2="1557.5" y1="1365.85" y2="1365.85"/>
<line class="grid" x1="1137.2" x2="1557.5" y1="1230.6" y2="1230.6"/>
<line class="grid" x1="1137.2" x2="1557.5" y1="1095.35" y2="1095.35"/>
<line class="grid" x1="1137.2" x2="1557.5" y1="960.1" y2="960.1"/>
<rect class="bar" x="1156" y="1479.81" width="28.4" height="20.69" fill="#BC8F8F"/>
<rect class="bar" x="1156" y="1060.37" width="28.4" height="419.43" fill="#458B74"/>
<rect class="bar" x="1156" y="990.13" width="28.4" height="70.24" fill="#36648B"/>
<rect class="bar" x="1156" y="975.87" width="28.4" height="14.26" fill="#8A2BE2"/>
<rect class="bar" x="1156" y="968.57" width="28.4" height="7.29" fill="#FF8C00"/>
<rect class="bar" x="1156" y="960.2" width="28.4" height="8.37" fill="#CD6090"/>
<rect x="1159.7" y="1476.31" width="21" height="3.5" fill="#000"/>
<path class="eb" d="M1159.7 1054.37H1180.7M1170.2 1054.37V1060.37M1159.7 1060.37H1180.7"/>
<path class="eb" d="M1159.7 984.63H1180.7M1170.2 984.63V990.13M1159.7 990.13H1180.7"/>
<rect x="1159.7" y="972.67" width="21" height="3.2" fill="#000"/>
<rect x="1159.7" y="966.07" width="21" height="2.5" fill="#000"/>
<rect x="1159.7" y="958" width="21" height="2.2" fill="#000"/>
<rect class="bar" x="1226.9" y="1477.38" width="28.4" height="23.12" fill="#BC8F8F"/>
<rect class="bar" x="1226.9" y="1139.47" width="28.4" height="337.9" fill="#458B74"/>
<rect class="bar" x="1226.9" y="1024.71" width="28.4" height="114.76" fill="#36648B"/>
<rect class="bar" x="1226.9" y="996.35" width="28.4" height="28.37" fill="#8A2BE2"/>
<rect class="bar" x="1226.9" y="983.97" width="28.4" height="12.37" fill="#FF8C00"/>
<rect class="bar" x="1226.9" y="960.2" width="28.4" height="23.77" fill="#CD6090"/>
<rect x="1230.6" y="1473.88" width="21" height="3.5" fill="#000"/>
<path class="eb" d="M1230.6 1132.97H1251.6M1241.1 1132.97V1139.47M1230.6 1139.47H1251.6"/>
<path class="eb" d="M1230.6 1018.71H1251.6M1241.1 1018.71V1024.71M1230.6 1024.71H1251.6"/>
<rect x="1230.6" y="992.65" width="21" height="3.7" fill="#000"/>
<rect x="1230.6" y="980.97" width="21" height="3" fill="#000"/>
<rect x="1230.6" y="957" width="21" height="3.2" fill="#000"/>
<rect class="bar" x="1297.8" y="1473.32" width="28.4" height="27.18" fill="#BC8F8F"/>
<rect class="bar" x="1297.8" y="1245.15" width="28.4" height="228.17" fill="#458B74"/>
<rect class="bar" x="1297.8" y="1081.98" width="28.4" height="163.17" fill="#36648B"/>
<rect class="bar" x="1297.8" y="1023.9" width="28.4" height="58.08" fill="#8A2BE2"/>
<rect class="bar" x="1297.8" y="1001.48" width="28.4" height="22.42" fill="#FF8C00"/>
<rect class="bar" x="1297.8" y="960.2" width="28.4" height="41.28" fill="#CD6090"/>
<path class="eb" d="M1301.5 1470.32H1322.5M1312 1470.32V1473.32M1301.5 1473.32H1322.5"/>
<path class="eb" d="M1301.5 1237.65H1322.5M1312 1237.65V1245.15M1301.5 1245.15H1322.5"/>
<path class="eb" d="M1301.5 1075.48H1322.5M1312 1075.48V1081.98M1301.5 1081.98H1322.5"/>
<path class="eb" d="M1301.5 1019.4H1322.5M1312 1019.4V1023.9M1301.5 1023.9H1322.5"/>
<rect x="1301.5" y="997.98" width="21" height="3.5" fill="#000"/>
<path class="eb" d="M1301.5 956.7H1322.5M1312 956.7V960.2M1301.5 960.2H1322.5"/>
<rect class="bar" x="1368.7" y="1470.62" width="28.4" height="29.88" fill="#BC8F8F"/>
<rect class="bar" x="1368.7" y="1270.55" width="28.4" height="200.07" fill="#458B74"/>
<rect class="bar" x="1368.7" y="1103" width="28.4" height="167.55" fill="#36648B"/>
<rect class="bar" x="1368.7" y="1037.95" width="28.4" height="65.05" fill="#8A2BE2"/>
<rect class="bar" x="1368.7" y="1009.04" width="28.4" height="28.91" fill="#FF8C00"/>
<rect class="bar" x="1368.7" y="960.2" width="28.4" height="48.84" fill="#CD6090"/>
<path class="eb" d="M1372.4 1467.12H1393.4M1382.9 1467.12V1470.62M1372.4 1470.62H1393.4"/>
<path class="eb" d="M1372.4 1263.05H1393.4M1382.9 1263.05V1270.55M1372.4 1270.55H1393.4"/>
<path class="eb" d="M1372.4 1096H1393.4M1382.9 1096V1103M1372.4 1103H1393.4"/>
<path class="eb" d="M1372.4 1032.95H1393.4M1382.9 1032.95V1037.95M1372.4 1037.95H1393.4"/>
<path class="eb" d="M1372.4 1006.04H1393.4M1382.9 1006.04V1009.04M1372.4 1009.04H1393.4"/>
<path class="eb" d="M1372.4 956H1393.4M1382.9 956V960.2M1372.4 960.2H1393.4"/>
<rect class="bar" x="1439.6" y="1466.57" width="28.4" height="33.93" fill="#BC8F8F"/>
<rect class="bar" x="1439.6" y="1278.92" width="28.4" height="187.65" fill="#458B74"/>
<rect class="bar" x="1439.6" y="1109.76" width="28.4" height="169.17" fill="#36648B"/>
<rect class="bar" x="1439.6" y="1044.16" width="28.4" height="65.59" fill="#8A2BE2"/>
<rect class="bar" x="1439.6" y="1013.1" width="28.4" height="31.07" fill="#FF8C00"/>
<rect class="bar" x="1439.6" y="960.2" width="28.4" height="52.9" fill="#CD6090"/>
<path class="eb" d="M1443.3 1462.57H1464.3M1453.8 1462.57V1466.57M1443.3 1466.57H1464.3"/>
<path class="eb" d="M1443.3 1271.92H1464.3M1453.8 1271.92V1278.92M1443.3 1278.92H1464.3"/>
<path class="eb" d="M1443.3 1102.26H1464.3M1453.8 1102.26V1109.76M1443.3 1109.76H1464.3"/>
<path class="eb" d="M1443.3 1038.66H1464.3M1453.8 1038.66V1044.16M1443.3 1044.16H1464.3"/>
<path class="eb" d="M1443.3 1009.1H1464.3M1453.8 1009.1V1013.1M1443.3 1013.1H1464.3"/>
<path class="eb" d="M1443.3 956H1464.3M1453.8 956V960.2M1443.3 960.2H1464.3"/>
<rect class="bar" x="1510.5" y="1463.06" width="28.4" height="37.44" fill="#BC8F8F"/>
<rect class="bar" x="1510.5" y="1282.98" width="28.4" height="180.08" fill="#458B74"/>
<rect class="bar" x="1510.5" y="1114.89" width="28.4" height="168.09" fill="#36648B"/>
<rect class="bar" x="1510.5" y="1046.32" width="28.4" height="68.56" fill="#8A2BE2"/>
<rect class="bar" x="1510.5" y="1017.69" width="28.4" height="28.64" fill="#FF8C00"/>
<rect class="bar" x="1510.5" y="960.2" width="28.4" height="57.49" fill="#CD6090"/>
<path class="eb" d="M1514.2 1459.06H1535.2M1524.7 1459.06V1463.06M1514.2 1463.06H1535.2"/>
<path class="eb" d="M1514.2 1274.38H1535.2M1524.7 1274.38V1282.98M1514.2 1282.98H1535.2"/>
<path class="eb" d="M1514.2 1106.89H1535.2M1524.7 1106.89V1114.89M1514.2 1114.89H1535.2"/>
<path class="eb" d="M1514.2 1040.32H1535.2M1524.7 1040.32V1046.32M1514.2 1046.32H1535.2"/>
<path class="eb" d="M1514.2 1013.19H1535.2M1524.7 1013.19V1017.69M1514.2 1017.69H1535.2"/>
<path class="eb" d="M1514.2 955H1535.2M1524.7 955V960.2M1514.2 960.2H1535.2"/>
<path d="M1137.2 907.2V1500.5" fill="none" stroke="#3a3a3a" stroke-width="2"/>
<path d="M1557.5 907.2V1500.5" fill="none" stroke="#8a8a8a" stroke-width="1.9"/>
<path d="M1136.2 907.2H1558.5" fill="none" stroke="#707070" stroke-width="2.0"/>
<path d="M1136.2 1500.5H1558.5" fill="none" stroke="#555" stroke-width="1.9"/>
<line class="tick" x1="1130.2" x2="1137.2" y1="1501.1" y2="1501.1"/>
<text class="tl" text-anchor="end" transform="translate(1125.2,1507.8) scale(1,1.04)">0.00</text>
<line class="tick" x1="1130.2" x2="1137.2" y1="1365.85" y2="1365.85"/>
<text class="tl" text-anchor="end" transform="translate(1125.2,1372.55) scale(1,1.04)">0.25</text>
<line class="tick" x1="1130.2" x2="1137.2" y1="1230.6" y2="1230.6"/>
<text class="tl" text-anchor="end" transform="translate(1125.2,1237.3) scale(1,1.04)">0.50</text>
<line class="tick" x1="1130.2" x2="1137.2" y1="1095.35" y2="1095.35"/>
<text class="tl" text-anchor="end" transform="translate(1125.2,1102.05) scale(1,1.04)">0.75</text>
<line class="tick" x1="1130.2" x2="1137.2" y1="960.1" y2="960.1"/>
<text class="tl" text-anchor="end" transform="translate(1125.2,966.8) scale(1,1.04)">1.00</text>
<line class="tick" x1="1170.2" x2="1170.2" y1="1500.5" y2="1507.7"/>
<text class="xl" text-anchor="end" transform="translate(1180.9,1524) scale(1,1.05) rotate(-45)">180 days after</text>
<line class="tick" x1="1241.1" x2="1241.1" y1="1500.5" y2="1507.7"/>
<text class="xl" text-anchor="end" transform="translate(1251.8,1524) scale(1,1.05) rotate(-45)">1 year after</text>
<line class="tick" x1="1312" x2="1312" y1="1500.5" y2="1507.7"/>
<text class="xl" text-anchor="end" transform="translate(1322.7,1524) scale(1,1.05) rotate(-45)">2 years after</text>
<line class="tick" x1="1382.9" x2="1382.9" y1="1500.5" y2="1507.7"/>
<text class="xl" text-anchor="end" transform="translate(1393.6,1524) scale(1,1.05) rotate(-45)">3 years after</text>
<line class="tick" x1="1453.8" x2="1453.8" y1="1500.5" y2="1507.7"/>
<text class="xl" text-anchor="end" transform="translate(1464.5,1524) scale(1,1.05) rotate(-45)">4 years after</text>
<line class="tick" x1="1524.7" x2="1524.7" y1="1500.5" y2="1507.7"/>
<text class="xl" text-anchor="end" transform="translate(1535.4,1524) scale(1,1.05) rotate(-45)">5 years after</text>
<text class="yt" text-anchor="middle" transform="translate(1079.1,1203.85) rotate(-90) scale(1.063,1)">Percetage (%)</text>
<text class="pt" text-anchor="middle" transform="translate(1311.9,942.5) scale(.973,1)">Age &lt; 45 years: Male sex</text>
<text class="let" transform="translate(1066.38,928.5) scale(0.7672,1)">F</text>
</g>
<g class="legend">
<text class="lt" transform="translate(851.5,63.3) scale(1,1.05)">Number of precribed drugs</text>
<rect x="1156.2" y="50.5" width="37.9" height="5.5" fill="#62676d"/>
<rect x="1302.9" y="50.5" width="37.9" height="5.5" fill="#62676d"/>
<rect x="1433.3" y="50.5" width="37.9" height="5.5" fill="#62676d"/>
<rect class="key" x="1157.2" y="13.3" width="35.9" height="37.8" fill="#CD6090"/>
<text class="ll" transform="translate(1207,40.5) scale(1,1.04)">no drugs</text>
<rect class="key" x="1157.2" y="54.9" width="35.9" height="37.8" fill="#FF8C00"/>
<text class="ll" transform="translate(1207,81.9) scale(1,1.04)">one drug</text>
<rect class="key" x="1303.9" y="13.3" width="35.9" height="37.8" fill="#8A2BE2"/>
<text class="ll" transform="translate(1353.7,40.5) scale(1,1.04)">2 drugs</text>
<rect class="key" x="1303.9" y="54.9" width="35.9" height="37.8" fill="#36648B"/>
<text class="ll" transform="translate(1353.7,81.9) scale(1,1.04)">3 drugs</text>
<rect class="key" x="1434.3" y="13.3" width="35.9" height="37.8" fill="#458B74"/>
<text class="ll" transform="translate(1483.3,40.5) scale(1,1.04)">4 drugs</text>
<rect class="key" x="1434.3" y="54.9" width="35.9" height="37.8" fill="#BC8F8F"/>
<text class="ll" transform="translate(1483.3,81.9) scale(1,1.04)">death</text>
</g>
</svg>
</body>
</html>
